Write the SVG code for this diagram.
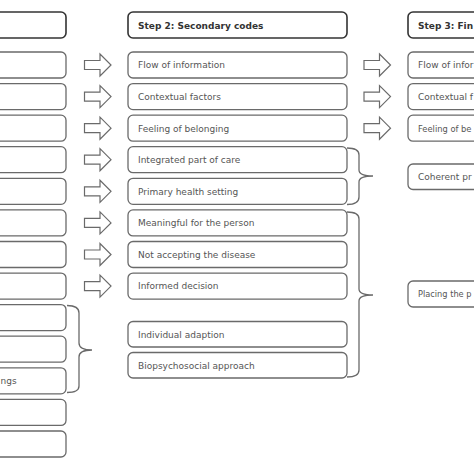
<svg xmlns="http://www.w3.org/2000/svg" xmlns:xlink="http://www.w3.org/1999/xlink" width="474" height="474" viewBox="0 0 474 474">
<style>
.box{fill:#fff;stroke:#6a6a6a;stroke-width:1.3}
.hdr{fill:#fff;stroke:#333;stroke-width:1.6}
.t{font-family:"DejaVu Sans",Verdana,sans-serif;font-size:9px;fill:#555}
.h{font-family:"DejaVu Sans",Verdana,sans-serif;font-size:9px;font-weight:bold;fill:#333}
.arr{fill:#fff;stroke:#6a6a6a;stroke-width:1.2;stroke-linejoin:miter}
.br{fill:none;stroke:#6a6a6a;stroke-width:1.3}
</style>
<defs>
<path id="arrow" d="M0,-4.5 H15.5 V-11 L26.5,0 L15.5,11 V4.5 H0 Z"/>
</defs>
<rect width="474" height="474" fill="#fff"/>
<g id="col1">
<g id="c1-h"><rect class="hdr" x="-20" y="12" width="86" height="26" rx="5"/></g>
<g id="c1-r1"><rect class="box" x="-20" y="52" width="86" height="26" rx="5"/></g>
<g id="c1-r2"><rect class="box" x="-20" y="83.6" width="86" height="26" rx="5"/></g>
<g id="c1-r3"><rect class="box" x="-20" y="115.2" width="86" height="26" rx="5"/></g>
<g id="c1-r4"><rect class="box" x="-20" y="146.7" width="86" height="26" rx="5"/></g>
<g id="c1-r5"><rect class="box" x="-20" y="178.3" width="86" height="26" rx="5"/></g>
<g id="c1-r6"><rect class="box" x="-20" y="209.9" width="86" height="26" rx="5"/></g>
<g id="c1-r7"><rect class="box" x="-20" y="241.5" width="86" height="26" rx="5"/></g>
<g id="c1-r8"><rect class="box" x="-20" y="273.1" width="86" height="26" rx="5"/></g>
<g id="c1-r9"><rect class="box" x="-20" y="304.6" width="86" height="26" rx="5"/></g>
<g id="c1-r10"><rect class="box" x="-20" y="336.2" width="86" height="26" rx="5"/></g>
<g id="c1-r11"><rect class="box" x="-20" y="367.8" width="86" height="26" rx="5"/><text class="t" x="0.5" y="384.3">ngs</text></g>
<g id="c1-r12"><rect class="box" x="-20" y="399.4" width="86" height="26" rx="5"/></g>
<g id="c1-r13"><rect class="box" x="-20" y="431" width="86" height="26" rx="5"/></g>
</g>
<g id="col2">
<g id="c2-h"><rect class="hdr" x="128" y="12" width="219" height="26" rx="5"/><text class="h" x="138" y="28.5">Step 2: Secondary codes</text></g>
<g id="c2-r1"><rect class="box" x="128" y="52" width="219" height="26" rx="5"/><text class="t" x="138" y="68.3">Flow of information</text></g>
<g id="c2-r2"><rect class="box" x="128" y="83.6" width="219" height="26" rx="5"/><text class="t" x="138" y="99.9">Contextual factors</text></g>
<g id="c2-r3"><rect class="box" x="128" y="115.2" width="219" height="26" rx="5"/><text class="t" x="138" y="131.5">Feeling of belonging</text></g>
<g id="c2-r4"><rect class="box" x="128" y="146.7" width="219" height="26" rx="5"/><text class="t" x="138" y="163">Integrated part of care</text></g>
<g id="c2-r5"><rect class="box" x="128" y="178.3" width="219" height="26" rx="5"/><text class="t" x="138" y="194.6">Primary health setting</text></g>
<g id="c2-r6"><rect class="box" x="128" y="209.9" width="219" height="26" rx="5"/><text class="t" x="138" y="226.2">Meaningful for the person</text></g>
<g id="c2-r7"><rect class="box" x="128" y="241.5" width="219" height="26" rx="5"/><text class="t" x="138" y="257.8">Not accepting the disease</text></g>
<g id="c2-r8"><rect class="box" x="128" y="273.1" width="219" height="26" rx="5"/><text class="t" x="138" y="289.4">Informed decision</text></g>
<g id="c2-r9"><rect class="box" x="128" y="321.5" width="219" height="25.5" rx="5"/><text class="t" x="138" y="337.6">Individual adaption</text></g>
<g id="c2-r10"><rect class="box" x="128" y="352.5" width="219" height="25.5" rx="5"/><text class="t" x="138" y="368.6">Biopsychosocial approach</text></g>
</g>
<g id="col3">
<g id="c3-h"><rect class="hdr" x="408" y="12" width="90" height="26" rx="5"/><text class="h" x="418" y="28.5">Step 3: Fin</text></g>
<g id="c3-r1"><rect class="box" x="408" y="52" width="90" height="26" rx="5"/><text class="t" x="418" y="68.3">Flow of infor</text></g>
<g id="c3-r2"><rect class="box" x="408" y="83.6" width="90" height="26" rx="5"/><text class="t" x="418" y="99.9">Contextual f</text></g>
<g id="c3-r3"><rect class="box" x="408" y="115.2" width="90" height="26" rx="5"/><text class="t" x="418" y="131.5" textLength="53.5" lengthAdjust="spacingAndGlyphs">Feeling of be</text></g>
<g id="c3-r4"><rect class="box" x="408" y="164" width="90" height="25.5" rx="5"/><text class="t" x="418" y="180.2">Coherent pr</text></g>
<g id="c3-r5"><rect class="box" x="408" y="281" width="90" height="26" rx="5"/><text class="t" x="418" y="297.3" textLength="53.5" lengthAdjust="spacingAndGlyphs">Placing the p</text></g>
</g>
<g id="connectors">
<use href="#arrow" xlink:href="#arrow" class="arr" transform="translate(84.5,65)"/>
<use href="#arrow" xlink:href="#arrow" class="arr" transform="translate(84.5,96.6)"/>
<use href="#arrow" xlink:href="#arrow" class="arr" transform="translate(84.5,128.2)"/>
<use href="#arrow" xlink:href="#arrow" class="arr" transform="translate(84.5,159.7)"/>
<use href="#arrow" xlink:href="#arrow" class="arr" transform="translate(84.5,191.3)"/>
<use href="#arrow" xlink:href="#arrow" class="arr" transform="translate(84.5,222.9)"/>
<use href="#arrow" xlink:href="#arrow" class="arr" transform="translate(84.5,254.5)"/>
<use href="#arrow" xlink:href="#arrow" class="arr" transform="translate(84.5,286.1)"/>
<use href="#arrow" xlink:href="#arrow" class="arr" transform="translate(364,65)"/>
<use href="#arrow" xlink:href="#arrow" class="arr" transform="translate(364,96.6)"/>
<use href="#arrow" xlink:href="#arrow" class="arr" transform="translate(364,128.2)"/>
<path class="br" d="M67,305.5 C74,305.5 79,307 79,313 L79,343 C79,348 84,350 92,350 C84,350 79,352 79,357 L79,386 C79,391 74,392.5 67,392.5"/>
<path class="br" d="M347,148 C354,148 359,149.5 359,155 L359,170 C359,174 364,176 373,176 C364,176 359,178 359,182 L359,197 C359,202.5 354,204.5 347,204.5"/>
<path class="br" d="M347,212 C354,212 359,213.5 359,219 L359,289 C359,293 364,295 373,295 C364,295 359,297 359,301 L359,370 C359,375.5 354,377 347,377"/>
</g>
</svg>
